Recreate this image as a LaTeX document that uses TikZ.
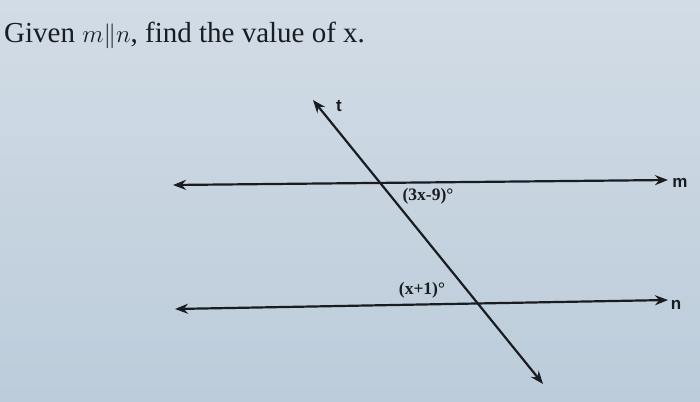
\documentclass[tikz,border=0pt]{standalone}
\usepackage{fontspec}
\setmainfont{Liberation Serif}
\setsansfont{Liberation Sans}
\usetikzlibrary{arrows.meta}
\definecolor{paper}{RGB}{210,220,230}
\definecolor{paperlow}{RGB}{188,204,218}
\definecolor{ink}{RGB}{25,28,32}
\tikzset{
  ray/.style={draw=ink, line width=2.2pt, {Stealth[length=13pt,width=10pt]}-{Stealth[length=13pt,width=10pt]}},
  lbl/.style={text=ink, font=\sffamily\bfseries\fontsize{17}{19}\selectfont, inner sep=0pt},
  angle lbl/.style={text=ink, font=\bfseries\fontsize{17.5}{19}\selectfont, inner sep=0pt}
}
\begin{document}
\begin{tikzpicture}[x=1pt,y=-1pt]
            \fill[top color=paper, bottom color=paperlow] (0,0) rectangle (700,401);
            \useasboundingbox (0,0) rectangle (700,401);
            \node[anchor=west, text=ink, inner sep=0pt, font=\fontsize{29}{32}\selectfont] (title) at (4,35) {Given $m\|n$, find the value of x.};
            \coordinate (mL) at (173,185);
            \coordinate (mR) at (668,180);
            \coordinate (nL) at (175,309);
            \coordinate (nR) at (668,300);
            \coordinate (tT) at (313,100);
            \coordinate (tB) at (543,384);
            \draw[ray] (mL)--(mR);
            \draw[ray] (nL)--(nR);
            \draw[ray] (tT)--(tB);
            \node[lbl] (t) at (339,106) {t};
            \node[lbl] (m) at (680,183) {m};
            \node[lbl] (n) at (676,305) {n};
            \node[angle lbl] (a1) at (428,196) {(3x-9)°};
            \node[angle lbl] (a2) at (422,290) {(x+1)°};
        \end{tikzpicture}
\end{document}
